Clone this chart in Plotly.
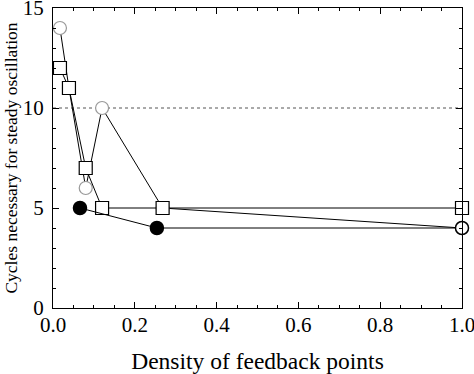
import plotly.graph_objects as go

# Series data
x_open = [0.017, 0.039, 0.08, 0.12, 0.268, 1.0]
y_open = [14, 11, 6, 10, 5, 4]

x_sq = [0.017, 0.039, 0.08, 0.12, 0.268, 1.0]
y_sq = [12, 11, 7, 5, 5, 5]

x_fill = [0.066, 0.254, 1.0]
y_fill = [5, 4, 4]

ref_y = 10

fig = go.Figure()
fig.add_trace(go.Scatter(x=x_open, y=y_open, mode="lines+markers", cliponaxis=False,
    line=dict(color="black", width=1),
    marker=dict(symbol="circle", size=13, color="white", line=dict(color="#999999", width=1.2))))
fig.add_trace(go.Scatter(x=x_sq, y=y_sq, mode="lines+markers", cliponaxis=False,
    line=dict(color="black", width=1),
    marker=dict(symbol="square", size=13, color="white", line=dict(color="black", width=1.2))))
fig.add_trace(go.Scatter(x=x_fill, y=y_fill, mode="lines+markers", cliponaxis=False,
    line=dict(color="black", width=1),
    marker=dict(symbol="circle", size=13, color=["black", "black", "white"], line=dict(color="black", width=1.5))))

fig.add_shape(type="line", xref="paper", x0=0, x1=1, yref="y", y0=ref_y, y1=ref_y,
              line=dict(color="#555555", width=1, dash="dot"), layer="below")

font = "Liberation Serif"
fig.update_layout(
    width=474, height=374,
    margin=dict(l=53, r=12, t=8, b=66),
    paper_bgcolor="white", plot_bgcolor="white",
    showlegend=False,
    font=dict(family=font, color="black", size=20),
)
fig.update_xaxes(range=[0, 1.0], tickvals=[0, 0.2, 0.4, 0.6, 0.8, 1.0],
    ticktext=["0.0", "0.2", "0.4", "0.6", "0.8", "1.0"],
    ticks="inside", ticklen=6, tickcolor="black", showline=True, linecolor="black", linewidth=1,
    mirror="allticks", showgrid=False, zeroline=False, ticklabeloverflow="allow", automargin=False,
    minor=dict(ticks="inside", dtick=0.05, ticklen=3, tickcolor="black"),
    title=dict(text="Density of feedback points", font=dict(family=font, size=23.5), standoff=16),
    tickfont=dict(family=font, size=21), ticklabelstandoff=-2)
fig.update_yaxes(range=[0, 15], tickvals=[0, 5, 10, 15],
    ticks="inside", ticklen=6, tickcolor="black", showline=True, linecolor="black", linewidth=1,
    mirror="allticks", showgrid=False, zeroline=False, ticklabeloverflow="allow", automargin=False,
    minor=dict(ticks="inside", dtick=1, ticklen=3, tickcolor="black"),
    title=dict(text="Cycles necessary for steady oscillation", font=dict(family=font, size=17.5), standoff=0),
    tickfont=dict(family=font, size=21), ticklabelstandoff=4)

fig.write_html("out.html", config={"displayModeBar": False},
               post_script="document.body.style.margin='0';document.body.style.overflow='hidden';")
